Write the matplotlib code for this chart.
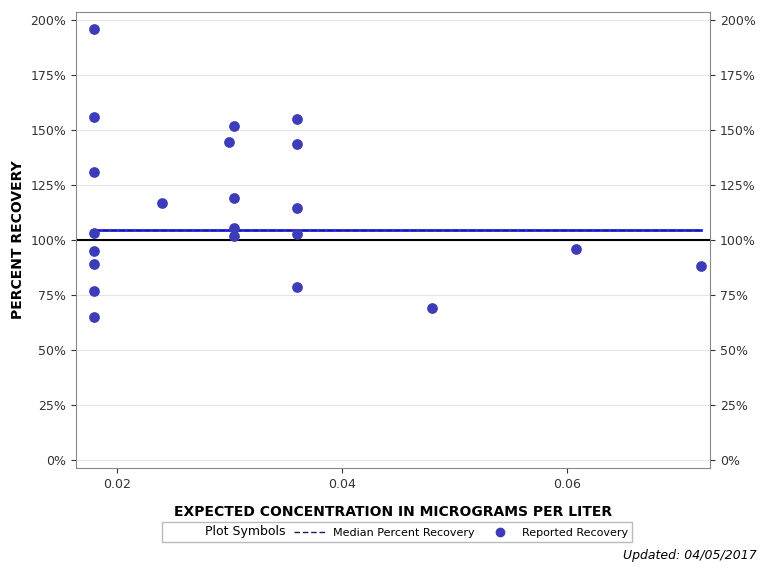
import numpy as np
import matplotlib.pyplot as plt
from matplotlib.ticker import FuncFormatter
from matplotlib.lines import Line2D

# Expected concentration (ug/L) and percent recovery
conc = [0.018, 0.018, 0.018, 0.018, 0.018, 0.018, 0.018, 0.018,
        0.024, 0.030, 0.0304, 0.0304, 0.0304, 0.0304,
        0.036, 0.036, 0.036, 0.036, 0.036, 0.048, 0.0608, 0.0719]
recovery = [196, 156, 131, 103, 95, 89, 77, 65,
            117, 144.5, 152, 119, 105.5, 102,
            155, 143.5, 114.5, 102.5, 78.5, 69, 96, 88]
median_rec = 104.5

fig = plt.figure(figsize=(7.68, 5.76), dpi=100)
ax = fig.add_axes([76/768, 1-468/576, 634/768, 456/576])

ax.grid(axis="y", color="#e4e4e4", lw=0.8)
ax.set_axisbelow(True)
ax.axhline(100, color="black", lw=1.5, zorder=2)
xmin, xmax = min(conc), max(conc)
ax.plot([xmin, xmax], [median_rec, median_rec], color="#2020ff", lw=2, zorder=3)
ax.plot([xmin, xmax], [median_rec, median_rec], color="#1a1a60", lw=1, ls=(0, (4, 2)), zorder=4)
ax.scatter(conc, recovery, s=45, color="#3c3cb8", zorder=5)

ax.set_xlim(0.01636, 0.0727)
ax.set_ylim(-3.6, 203.6)
ax.set_xticks([0.02, 0.04, 0.06])
ax.set_yticks(np.arange(0, 201, 25))
ax.yaxis.set_major_formatter(FuncFormatter(lambda v, p: f"{v:.0f}%"))
ax.tick_params(labelsize=9, colors="#333333", right=True, labelright=True)
for s in ax.spines.values():
    s.set_color("#888888")

ax.set_xlabel("EXPECTED CONCENTRATION IN MICROGRAMS PER LITER", fontsize=10, fontweight="bold", labelpad=10)
ax.set_ylabel("PERCENT RECOVERY", fontsize=10, fontweight="bold")

# legend with inline title
handles = [Line2D([], [], color="none"),
           Line2D([], [], color="#1a1a60", lw=1, ls=(0, (4, 2))),
           Line2D([], [], marker="o", color="#3c3cb8", ls="none", markersize=6)]
labels = ["Plot Symbols", "Median Percent Recovery", "Reported Recovery"]
leg = fig.legend(handles, labels, loc="center", bbox_to_anchor=(397/768, 1-532/576),
                 ncol=3, fontsize=8, frameon=True, fancybox=False, edgecolor="#aaaaaa",
                 handlelength=3, handletextpad=0.5, borderpad=0.3, columnspacing=0.8)
t = leg.get_texts()[0]
t.set_fontsize(9)
leg.legend_handles[0].set_visible(False)

fig.text(0.985, 1-556/576, "Updated: 04/05/2017", ha="right", va="center", fontsize=9, style="italic")
fig.savefig("out.png", dpi=100)
